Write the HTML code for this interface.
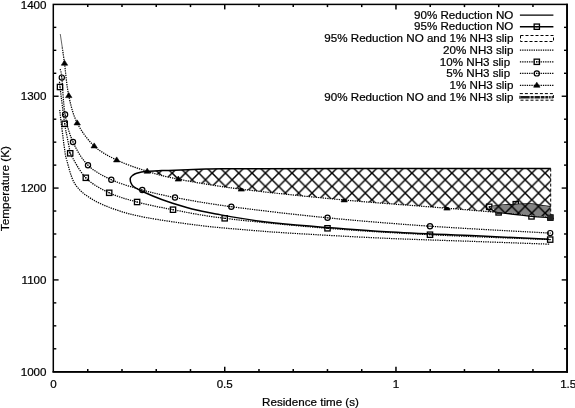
<!DOCTYPE html><html><head><meta charset="utf-8"><title>Temperature vs residence time</title>
<style>html,body{margin:0;padding:0;background:#fff}svg{display:block}text{font-family:"Liberation Sans",Arial,sans-serif;font-size:11.62px;fill:#000;stroke:#000;stroke-width:0.22px}</style></head><body>
<svg width="575" height="408" viewBox="0 0 575 408">
<rect width="575" height="408" fill="#fff"/>
<defs><pattern id="hx" patternUnits="userSpaceOnUse" x="12.32" y="13.26" width="13.32" height="13.32"><path d="M0,0L13.32,13.32 M0,13.32 L13.32,0" stroke="#000" stroke-width="1.5" stroke-linecap="square" fill="none"/></pattern>
<pattern id="hx2" patternUnits="userSpaceOnUse" x="5.5" y="97.3" width="13.32" height="13.32"><path d="M0,0L13.32,13.32 M0,13.32 L13.32,0" stroke="#000" stroke-width="1.4" stroke-linecap="square" fill="none"/></pattern>
</defs>
<path d="M59.70,110.00 C60.03,112.80 60.88,120.25 61.70,126.80 C62.52,133.35 63.77,143.77 64.60,149.30 C65.43,154.83 64.97,154.22 66.70,160.00 C68.43,165.78 70.83,177.50 75.00,184.00 C79.17,190.50 84.75,194.67 91.70,199.00 C98.65,203.33 107.65,206.92 116.70,210.00 C125.75,213.08 132.12,214.92 146.00,217.50 C159.88,220.08 182.67,223.38 200.00,225.50 C217.33,227.62 234.00,228.87 250.00,230.20 C266.00,231.53 273.33,232.15 296.00,233.50 C318.67,234.85 356.00,236.97 386.00,238.30 C416.00,239.63 448.67,240.52 476.00,241.50 C503.33,242.48 537.67,243.75 550.00,244.20" fill="none" stroke="#000" stroke-width="1.25" stroke-dasharray="1.3 1.0"/>
<path d="M59.60,82.00 C59.67,82.83 59.15,80.03 60.00,87.00 C60.85,93.97 63.52,115.50 64.70,123.80 C65.88,132.10 66.30,132.60 67.10,136.80 C67.90,141.00 68.98,146.25 69.50,149.00 C70.02,151.75 67.48,148.50 70.20,153.30 C72.92,158.10 79.30,171.22 85.80,177.80 C92.30,184.38 100.65,188.77 109.20,192.80 C117.75,196.83 126.47,199.18 137.10,202.00 C147.73,204.82 158.40,206.98 173.00,209.70 C187.60,212.42 198.95,215.20 224.70,218.30 C250.45,221.40 293.28,225.57 327.50,228.30 C361.72,231.03 392.88,232.82 430.00,234.70 C467.12,236.58 530.17,238.78 550.20,239.60" fill="none" stroke="#000" stroke-width="1.25" stroke-dasharray="1.3 1.0"/>
<rect x="57.35" y="84.35" width="5.3" height="5.3" fill="none" stroke="#000" stroke-width="1.3"/><rect x="59.40" y="86.40" width="1.2" height="1.2" fill="#000"/>
<rect x="62.05" y="121.15" width="5.3" height="5.3" fill="none" stroke="#000" stroke-width="1.3"/><rect x="64.10" y="123.20" width="1.2" height="1.2" fill="#000"/>
<rect x="67.55" y="150.65" width="5.3" height="5.3" fill="none" stroke="#000" stroke-width="1.3"/><rect x="69.60" y="152.70" width="1.2" height="1.2" fill="#000"/>
<rect x="83.15" y="175.15" width="5.3" height="5.3" fill="none" stroke="#000" stroke-width="1.3"/><rect x="85.20" y="177.20" width="1.2" height="1.2" fill="#000"/>
<rect x="106.55" y="190.15" width="5.3" height="5.3" fill="none" stroke="#000" stroke-width="1.3"/><rect x="108.60" y="192.20" width="1.2" height="1.2" fill="#000"/>
<rect x="134.45" y="199.35" width="5.3" height="5.3" fill="none" stroke="#000" stroke-width="1.3"/><rect x="136.50" y="201.40" width="1.2" height="1.2" fill="#000"/>
<rect x="170.35" y="207.05" width="5.3" height="5.3" fill="none" stroke="#000" stroke-width="1.3"/><rect x="172.40" y="209.10" width="1.2" height="1.2" fill="#000"/>
<rect x="222.05" y="215.65" width="5.3" height="5.3" fill="none" stroke="#000" stroke-width="1.3"/><rect x="224.10" y="217.70" width="1.2" height="1.2" fill="#000"/>
<rect x="324.85" y="225.65" width="5.3" height="5.3" fill="none" stroke="#000" stroke-width="1.3"/><rect x="326.90" y="227.70" width="1.2" height="1.2" fill="#000"/>
<rect x="427.35" y="232.05" width="5.3" height="5.3" fill="none" stroke="#000" stroke-width="1.3"/><rect x="429.40" y="234.10" width="1.2" height="1.2" fill="#000"/>
<rect x="547.55" y="236.95" width="5.3" height="5.3" fill="none" stroke="#000" stroke-width="1.3"/><rect x="549.60" y="239.00" width="1.2" height="1.2" fill="#000"/>
<path d="M60.20,69.20 C60.47,70.60 60.98,70.05 61.80,77.60 C62.62,85.15 63.23,103.77 65.10,114.50 C66.97,125.23 69.18,133.55 73.00,142.00 C76.82,150.45 81.62,158.92 88.00,165.20 C94.38,171.48 102.25,175.57 111.30,179.70 C120.35,183.83 131.68,187.03 142.30,190.00 C152.92,192.97 160.17,194.72 175.00,197.50 C189.83,200.28 205.88,203.32 231.30,206.70 C256.72,210.08 294.38,214.55 327.50,217.80 C360.62,221.05 392.88,223.65 430.00,226.20 C467.12,228.75 530.17,231.95 550.20,233.10" fill="none" stroke="#000" stroke-width="1.25" stroke-dasharray="1.3 1.0"/>
<circle cx="61.80" cy="77.60" r="2.6" fill="none" stroke="#000" stroke-width="1.2"/><rect x="61.35" y="77.15" width="0.9" height="0.9" fill="#000"/>
<circle cx="65.10" cy="114.50" r="2.6" fill="none" stroke="#000" stroke-width="1.2"/><rect x="64.65" y="114.05" width="0.9" height="0.9" fill="#000"/>
<circle cx="73.00" cy="142.00" r="2.6" fill="none" stroke="#000" stroke-width="1.2"/><rect x="72.55" y="141.55" width="0.9" height="0.9" fill="#000"/>
<circle cx="88.00" cy="165.20" r="2.6" fill="none" stroke="#000" stroke-width="1.2"/><rect x="87.55" y="164.75" width="0.9" height="0.9" fill="#000"/>
<circle cx="111.30" cy="179.70" r="2.6" fill="none" stroke="#000" stroke-width="1.2"/><rect x="110.85" y="179.25" width="0.9" height="0.9" fill="#000"/>
<circle cx="142.30" cy="190.00" r="2.6" fill="none" stroke="#000" stroke-width="1.2"/><rect x="141.85" y="189.55" width="0.9" height="0.9" fill="#000"/>
<circle cx="175.00" cy="197.50" r="2.6" fill="none" stroke="#000" stroke-width="1.2"/><rect x="174.55" y="197.05" width="0.9" height="0.9" fill="#000"/>
<circle cx="231.30" cy="206.70" r="2.6" fill="none" stroke="#000" stroke-width="1.2"/><rect x="230.85" y="206.25" width="0.9" height="0.9" fill="#000"/>
<circle cx="327.50" cy="217.80" r="2.6" fill="none" stroke="#000" stroke-width="1.2"/><rect x="327.05" y="217.35" width="0.9" height="0.9" fill="#000"/>
<circle cx="430.00" cy="226.20" r="2.6" fill="none" stroke="#000" stroke-width="1.2"/><rect x="429.55" y="225.75" width="0.9" height="0.9" fill="#000"/>
<circle cx="550.20" cy="233.10" r="2.6" fill="none" stroke="#000" stroke-width="1.2"/><rect x="549.75" y="232.65" width="0.9" height="0.9" fill="#000"/>
<path d="M60.25,34 L62.3,47.5" fill="none" stroke="#333" stroke-width="0.75"/>
<path d="M62.30,47.50 C62.67,50.13 63.42,55.27 64.50,63.30 C65.58,71.33 66.63,85.75 68.75,95.70 C70.87,105.65 72.96,114.62 77.20,123.00 C81.44,131.38 87.62,139.83 94.20,146.00 C100.78,152.17 107.87,155.78 116.70,160.00 C125.53,164.22 136.93,168.10 147.20,171.30 C157.47,174.50 162.62,176.22 178.30,179.20 C193.98,182.18 213.65,185.73 241.30,189.20 C268.95,192.67 309.92,196.83 344.20,200.00 C378.48,203.17 412.63,205.40 447.00,208.20 C481.37,211.00 533.17,215.37 550.40,216.80" fill="none" stroke="#000" stroke-width="1.25" stroke-dasharray="1.3 1.0"/>
<polygon points="64.50,60.20 61.30,65.20 67.70,65.20" fill="#000" stroke="#000" stroke-width="0.6" stroke-linejoin="miter"/>
<polygon points="68.75,92.60 65.55,97.60 71.95,97.60" fill="#000" stroke="#000" stroke-width="0.6" stroke-linejoin="miter"/>
<polygon points="77.20,119.90 74.00,124.90 80.40,124.90" fill="#000" stroke="#000" stroke-width="0.6" stroke-linejoin="miter"/>
<polygon points="94.20,142.90 91.00,147.90 97.40,147.90" fill="#000" stroke="#000" stroke-width="0.6" stroke-linejoin="miter"/>
<polygon points="116.70,156.90 113.50,161.90 119.90,161.90" fill="#000" stroke="#000" stroke-width="0.6" stroke-linejoin="miter"/>
<polygon points="147.20,168.20 144.00,173.20 150.40,173.20" fill="#000" stroke="#000" stroke-width="0.6" stroke-linejoin="miter"/>
<polygon points="178.30,176.10 175.10,181.10 181.50,181.10" fill="#000" stroke="#000" stroke-width="0.6" stroke-linejoin="miter"/>
<polygon points="241.30,186.10 238.10,191.10 244.50,191.10" fill="#000" stroke="#000" stroke-width="0.6" stroke-linejoin="miter"/>
<polygon points="344.20,196.90 341.00,201.90 347.40,201.90" fill="#000" stroke="#000" stroke-width="0.6" stroke-linejoin="miter"/>
<polygon points="447.00,205.10 443.80,210.10 450.20,210.10" fill="#000" stroke="#000" stroke-width="0.6" stroke-linejoin="miter"/>
<polygon points="550.40,213.70 547.20,218.70 553.60,218.70" fill="#000" stroke="#000" stroke-width="0.6" stroke-linejoin="miter"/>
<path d="M188,169.5 L550.7,168.6 L550.70,215.50  C533.42,214.07 481.42,209.70 447.00,206.90 C412.58,204.10 378.48,201.87 344.20,198.70 C309.92,195.53 265.33,190.77 241.30,187.90 C217.27,185.03 208.88,183.05 200.00,181.50 C191.12,179.95 190.00,179.08 188.00,178.60 Z" fill="#fff" stroke="none"/>
<path d="M550.80,168.60 C525.67,168.60 448.47,168.58 400.00,168.60 C351.53,168.62 289.67,168.67 260.00,168.70 C230.33,168.73 231.00,168.73 222.00,168.80 C213.00,168.87 211.75,168.95 206.00,169.10 C200.25,169.25 193.71,169.48 187.50,169.70 C181.29,169.92 173.05,170.25 168.75,170.40 C164.45,170.55 165.29,170.45 161.70,170.60 C158.11,170.75 151.37,170.87 147.20,171.30 C143.03,171.73 139.15,172.50 136.70,173.20 C134.25,173.90 133.55,174.70 132.50,175.50 C131.45,176.30 130.77,177.25 130.40,178.00 C130.03,178.75 130.23,179.25 130.30,180.00 C130.37,180.75 130.27,181.42 130.80,182.50 C131.33,183.58 131.63,185.03 133.50,186.50 C135.37,187.97 137.30,189.13 142.00,191.30 C146.70,193.47 154.25,196.80 161.70,199.50 C169.15,202.20 180.32,205.62 186.70,207.50 C193.08,209.38 195.12,209.72 200.00,210.80 C204.88,211.88 206.33,212.30 216.00,214.00 C225.67,215.70 244.67,219.17 258.00,221.00 C271.33,222.83 274.67,223.22 296.00,225.00 C317.33,226.78 356.00,229.90 386.00,231.70 C416.00,233.50 448.83,234.53 476.00,235.80 C503.17,237.07 536.83,238.72 549.00,239.30" fill="none" stroke="#000" stroke-width="1.5" />
<path d="M489.20,206.80 C489.58,206.77 490.53,206.77 491.50,206.60 C492.47,206.43 493.75,206.02 495.00,205.80 C496.25,205.58 497.33,205.45 499.00,205.30 C500.67,205.15 502.17,205.05 505.00,204.90 C507.83,204.75 511.67,204.55 516.00,204.40 C520.33,204.25 526.83,203.83 531.00,204.00 C535.17,204.17 537.73,204.95 541.00,205.40 C544.27,205.85 549.00,206.48 550.60,206.70" fill="none" stroke="#000" stroke-width="1.3" />
<path d="M489.20,206.80 C489.42,207.13 489.70,208.10 490.50,208.80 C491.30,209.50 492.65,210.40 494.00,211.00 C495.35,211.60 494.93,211.82 498.60,212.40 C502.27,212.98 510.52,213.83 516.00,214.50 C521.48,215.17 525.73,215.88 531.50,216.40 C537.27,216.92 547.42,217.40 550.60,217.60" fill="none" stroke="#000" stroke-width="1.3" />
<rect x="486.55" y="204.15" width="5.3" height="5.3" fill="none" stroke="#000" stroke-width="1.3"/><rect x="488.60" y="206.20" width="1.2" height="1.2" fill="#000"/>
<rect x="513.10" y="201.55" width="5.3" height="5.3" fill="none" stroke="#000" stroke-width="1.3"/><rect x="515.15" y="203.60" width="1.2" height="1.2" fill="#000"/>
<rect x="495.95" y="209.75" width="5.3" height="5.3" fill="none" stroke="#000" stroke-width="1.3"/><rect x="498.00" y="211.80" width="1.2" height="1.2" fill="#000"/>
<rect x="528.85" y="213.75" width="5.3" height="5.3" fill="none" stroke="#000" stroke-width="1.3"/><rect x="530.90" y="215.80" width="1.2" height="1.2" fill="#000"/>
<rect x="547.75" y="214.95" width="5.3" height="5.3" fill="none" stroke="#000" stroke-width="1.3"/><rect x="549.80" y="217.00" width="1.2" height="1.2" fill="#000"/>
<path d="M491.50,206.60 C492.08,206.47 493.75,206.02 495.00,205.80 C496.25,205.58 497.33,205.45 499.00,205.30 C500.67,205.15 502.17,205.05 505.00,204.90 C507.83,204.75 511.67,204.55 516.00,204.40 C520.33,204.25 526.83,203.83 531.00,204.00 C535.17,204.17 537.73,204.95 541.00,205.40 C544.27,205.85 549.00,206.48 550.60,206.70 L550.60,216.90  C547.42,216.65 537.27,215.93 531.50,215.40 C525.73,214.87 521.42,214.28 516.00,213.70 C510.58,213.12 502.42,212.28 499.00,211.90 C495.58,211.52 496.08,211.48 495.50,211.40 Z" fill="#828282"/>
<path d="M147.20,171.30 C149.62,171.18 158.11,170.75 161.70,170.60 C165.29,170.45 164.45,170.55 168.75,170.40 C173.05,170.25 181.29,169.92 187.50,169.70 C193.71,169.48 200.25,169.25 206.00,169.10 C211.75,168.95 213.00,168.87 222.00,168.80 C231.00,168.73 230.33,168.73 260.00,168.70 C289.67,168.67 351.53,168.62 400.00,168.60 C448.47,168.58 525.67,168.60 550.80,168.60 L550.40,216.80  C533.17,215.37 481.37,211.00 447.00,208.20 C412.63,205.40 378.48,203.17 344.20,200.00 C309.92,196.83 268.95,192.67 241.30,189.20 C213.65,185.73 193.98,182.18 178.30,179.20 C162.62,176.22 152.38,172.62 147.20,171.30 Z" fill="url(#hx)" stroke="none"/>
<line x1="550.70" y1="168.60" x2="550.70" y2="216.80" stroke="#000" stroke-width="1.0" stroke-dasharray="3 2"/>
<rect x="547.6" y="214.6" width="5.6" height="5.4" fill="#222"/>
<rect x="496.3" y="212.3" width="4.8" height="1.9" fill="#222"/>
<rect x="53.30" y="4.40" width="513.70" height="367.35" fill="none" stroke="#000" stroke-width="1.5"/>
<line x1="52.55" y1="371.90" x2="567.95" y2="371.90" stroke="#000" stroke-width="1.9" />
<line x1="567.10" y1="3.65" x2="567.10" y2="372.75" stroke="#000" stroke-width="1.75" />
<line x1="87.75" y1="371.75" x2="87.75" y2="369.05" stroke="#000" stroke-width="1.5" />
<line x1="87.75" y1="4.40" x2="87.75" y2="7.10" stroke="#000" stroke-width="1.5" />
<line x1="121.99" y1="371.75" x2="121.99" y2="369.05" stroke="#000" stroke-width="1.5" />
<line x1="121.99" y1="4.40" x2="121.99" y2="7.10" stroke="#000" stroke-width="1.5" />
<line x1="156.24" y1="371.75" x2="156.24" y2="369.05" stroke="#000" stroke-width="1.5" />
<line x1="156.24" y1="4.40" x2="156.24" y2="7.10" stroke="#000" stroke-width="1.5" />
<line x1="190.49" y1="371.75" x2="190.49" y2="369.05" stroke="#000" stroke-width="1.5" />
<line x1="190.49" y1="4.40" x2="190.49" y2="7.10" stroke="#000" stroke-width="1.5" />
<line x1="224.73" y1="371.75" x2="224.73" y2="366.75" stroke="#000" stroke-width="1.5" />
<line x1="224.73" y1="4.40" x2="224.73" y2="9.40" stroke="#000" stroke-width="1.5" />
<line x1="258.98" y1="371.75" x2="258.98" y2="369.05" stroke="#000" stroke-width="1.5" />
<line x1="258.98" y1="4.40" x2="258.98" y2="7.10" stroke="#000" stroke-width="1.5" />
<line x1="293.23" y1="371.75" x2="293.23" y2="369.05" stroke="#000" stroke-width="1.5" />
<line x1="293.23" y1="4.40" x2="293.23" y2="7.10" stroke="#000" stroke-width="1.5" />
<line x1="327.47" y1="371.75" x2="327.47" y2="369.05" stroke="#000" stroke-width="1.5" />
<line x1="327.47" y1="4.40" x2="327.47" y2="7.10" stroke="#000" stroke-width="1.5" />
<line x1="361.72" y1="371.75" x2="361.72" y2="369.05" stroke="#000" stroke-width="1.5" />
<line x1="361.72" y1="4.40" x2="361.72" y2="7.10" stroke="#000" stroke-width="1.5" />
<line x1="395.97" y1="371.75" x2="395.97" y2="366.75" stroke="#000" stroke-width="1.5" />
<line x1="395.97" y1="4.40" x2="395.97" y2="9.40" stroke="#000" stroke-width="1.5" />
<line x1="430.21" y1="371.75" x2="430.21" y2="369.05" stroke="#000" stroke-width="1.5" />
<line x1="430.21" y1="4.40" x2="430.21" y2="7.10" stroke="#000" stroke-width="1.5" />
<line x1="464.46" y1="371.75" x2="464.46" y2="369.05" stroke="#000" stroke-width="1.5" />
<line x1="464.46" y1="4.40" x2="464.46" y2="7.10" stroke="#000" stroke-width="1.5" />
<line x1="498.71" y1="371.75" x2="498.71" y2="369.05" stroke="#000" stroke-width="1.5" />
<line x1="498.71" y1="4.40" x2="498.71" y2="7.10" stroke="#000" stroke-width="1.5" />
<line x1="532.95" y1="371.75" x2="532.95" y2="369.05" stroke="#000" stroke-width="1.5" />
<line x1="532.95" y1="4.40" x2="532.95" y2="7.10" stroke="#000" stroke-width="1.5" />
<line x1="53.30" y1="348.79" x2="56.30" y2="348.79" stroke="#000" stroke-width="1.4" />
<line x1="567.00" y1="348.79" x2="564.00" y2="348.79" stroke="#000" stroke-width="1.4" />
<line x1="53.30" y1="325.83" x2="56.30" y2="325.83" stroke="#000" stroke-width="1.4" />
<line x1="567.00" y1="325.83" x2="564.00" y2="325.83" stroke="#000" stroke-width="1.4" />
<line x1="53.30" y1="302.87" x2="56.30" y2="302.87" stroke="#000" stroke-width="1.4" />
<line x1="567.00" y1="302.87" x2="564.00" y2="302.87" stroke="#000" stroke-width="1.4" />
<line x1="53.30" y1="279.91" x2="58.60" y2="279.91" stroke="#000" stroke-width="1.4" />
<line x1="567.00" y1="279.91" x2="561.70" y2="279.91" stroke="#000" stroke-width="1.4" />
<line x1="53.30" y1="256.95" x2="56.30" y2="256.95" stroke="#000" stroke-width="1.4" />
<line x1="567.00" y1="256.95" x2="564.00" y2="256.95" stroke="#000" stroke-width="1.4" />
<line x1="53.30" y1="233.99" x2="56.30" y2="233.99" stroke="#000" stroke-width="1.4" />
<line x1="567.00" y1="233.99" x2="564.00" y2="233.99" stroke="#000" stroke-width="1.4" />
<line x1="53.30" y1="211.03" x2="56.30" y2="211.03" stroke="#000" stroke-width="1.4" />
<line x1="567.00" y1="211.03" x2="564.00" y2="211.03" stroke="#000" stroke-width="1.4" />
<line x1="53.30" y1="188.07" x2="58.60" y2="188.07" stroke="#000" stroke-width="1.4" />
<line x1="567.00" y1="188.07" x2="561.70" y2="188.07" stroke="#000" stroke-width="1.4" />
<line x1="53.30" y1="165.12" x2="56.30" y2="165.12" stroke="#000" stroke-width="1.4" />
<line x1="567.00" y1="165.12" x2="564.00" y2="165.12" stroke="#000" stroke-width="1.4" />
<line x1="53.30" y1="142.16" x2="56.30" y2="142.16" stroke="#000" stroke-width="1.4" />
<line x1="567.00" y1="142.16" x2="564.00" y2="142.16" stroke="#000" stroke-width="1.4" />
<line x1="53.30" y1="119.20" x2="56.30" y2="119.20" stroke="#000" stroke-width="1.4" />
<line x1="567.00" y1="119.20" x2="564.00" y2="119.20" stroke="#000" stroke-width="1.4" />
<line x1="53.30" y1="96.24" x2="58.60" y2="96.24" stroke="#000" stroke-width="1.4" />
<line x1="567.00" y1="96.24" x2="561.70" y2="96.24" stroke="#000" stroke-width="1.4" />
<line x1="53.30" y1="73.28" x2="56.30" y2="73.28" stroke="#000" stroke-width="1.4" />
<line x1="567.00" y1="73.28" x2="564.00" y2="73.28" stroke="#000" stroke-width="1.4" />
<line x1="53.30" y1="50.32" x2="56.30" y2="50.32" stroke="#000" stroke-width="1.4" />
<line x1="567.00" y1="50.32" x2="564.00" y2="50.32" stroke="#000" stroke-width="1.4" />
<line x1="53.30" y1="27.36" x2="56.30" y2="27.36" stroke="#000" stroke-width="1.4" />
<line x1="567.00" y1="27.36" x2="564.00" y2="27.36" stroke="#000" stroke-width="1.4" />
<text x="46.5" y="375.85" text-anchor="end">1000</text>
<text x="46.5" y="284.01" text-anchor="end">1100</text>
<text x="46.5" y="192.17" text-anchor="end">1200</text>
<text x="46.5" y="100.34" text-anchor="end">1300</text>
<text x="46.5" y="8.50" text-anchor="end">1400</text>
<text x="53.50" y="388.4" text-anchor="middle">0</text>
<text x="224.73" y="388.4" text-anchor="middle">0.5</text>
<text x="395.97" y="388.4" text-anchor="middle">1</text>
<text x="568.20" y="388.4" text-anchor="middle">1.5</text>
<text x="310.5" y="405.6" text-anchor="middle">Residence time (s)</text>
<text transform="translate(8.5,188.6) rotate(-90)" text-anchor="middle" style="font-size:11.8px">Temperature (K)</text>
<text x="513.4" y="18.75" text-anchor="end" xml:space="preserve">90% Reduction NO</text>
<text x="513.4" y="30.35" text-anchor="end" xml:space="preserve">95% Reduction NO</text>
<text x="513.4" y="41.95" text-anchor="end" xml:space="preserve">95% Reduction NO and 1% NH3 slip</text>
<text x="513.4" y="53.85" text-anchor="end" xml:space="preserve">20% NH3 slip</text>
<text x="513.4" y="65.80" text-anchor="end" xml:space="preserve">10% NH3 slip </text>
<text x="513.4" y="77.40" text-anchor="end" xml:space="preserve">5% NH3 slip </text>
<text x="513.4" y="89.30" text-anchor="end" xml:space="preserve">1% NH3 slip</text>
<text x="513.4" y="100.70" text-anchor="end" xml:space="preserve">90% Reduction NO and 1% NH3 slip</text>
<line x1="519.90" y1="15.10" x2="553.40" y2="15.10" stroke="#000" stroke-width="1.4" />
<line x1="519.90" y1="26.70" x2="553.40" y2="26.70" stroke="#000" stroke-width="1.4" />
<rect x="534.15" y="24.05" width="5.3" height="5.3" fill="none" stroke="#000" stroke-width="1.3"/><rect x="536.20" y="26.10" width="1.2" height="1.2" fill="#000"/>
<rect x="520.50" y="35.50" width="33.00" height="6.00" fill="none" stroke="#000" stroke-width="1" stroke-dasharray="3 2"/>
<line x1="519.90" y1="50.10" x2="553.40" y2="50.10" stroke="#000" stroke-width="1.25" stroke-dasharray="1.3 1.0"/>
<line x1="519.90" y1="61.80" x2="553.40" y2="61.80" stroke="#000" stroke-width="1.25" stroke-dasharray="1.3 1.0"/>
<rect x="534.15" y="59.15" width="5.3" height="5.3" fill="none" stroke="#000" stroke-width="1.3"/><rect x="536.20" y="61.20" width="1.2" height="1.2" fill="#000"/>
<line x1="519.90" y1="73.40" x2="553.40" y2="73.40" stroke="#000" stroke-width="1.25" stroke-dasharray="1.3 1.0"/>
<circle cx="536.80" cy="73.40" r="2.6" fill="none" stroke="#000" stroke-width="1.2"/><rect x="536.35" y="72.95" width="0.9" height="0.9" fill="#000"/>
<line x1="519.90" y1="85.30" x2="553.40" y2="85.30" stroke="#000" stroke-width="1.25" stroke-dasharray="1.3 1.0"/>
<polygon points="536.80,82.20 533.60,87.20 540.00,87.20" fill="#000" stroke="#000" stroke-width="0.6" stroke-linejoin="miter"/>
<rect x="519.90" y="93.60" width="33.50" height="6.60" fill="none" stroke="#000" stroke-width="1" stroke-dasharray="3 2"/>
<line x1="520.40" y1="97.3" x2="552.90" y2="97.3" stroke="#1a1a1a" stroke-width="2.6" stroke-dasharray="9.3 0.8 3.2 0.8 5.4 0.8 3.8 0.8 3 0.8 1.6 0.8 2.4 9"/>
</svg></body></html>
